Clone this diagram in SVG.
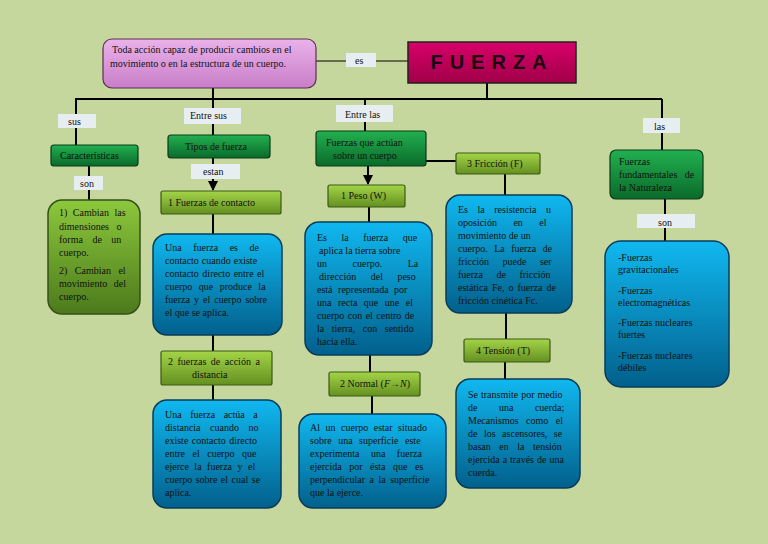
<svg xmlns="http://www.w3.org/2000/svg" width="768" height="544" viewBox="0 0 768 544">
<defs>
<linearGradient id="gb" x1="0" y1="0" x2="0" y2="1"><stop offset="0" stop-color="#10b8f0"/><stop offset="1" stop-color="#02608c"/></linearGradient>
<linearGradient id="gg" x1="0" y1="0" x2="0" y2="1"><stop offset="0" stop-color="#8cc83c"/><stop offset="1" stop-color="#4c7a1c"/></linearGradient>
<linearGradient id="gd" x1="0" y1="0" x2="0" y2="1"><stop offset="0" stop-color="#22b050"/><stop offset="1" stop-color="#0a6a2a"/></linearGradient>
<linearGradient id="gl" x1="0" y1="0" x2="0" y2="1"><stop offset="0" stop-color="#a4d448"/><stop offset="1" stop-color="#649020"/></linearGradient>
<linearGradient id="gp" x1="0" y1="0" x2="0" y2="1"><stop offset="0" stop-color="#eab2ea"/><stop offset="1" stop-color="#c87ec8"/></linearGradient>
<linearGradient id="gm" x1="0" y1="0" x2="0" y2="1"><stop offset="0" stop-color="#d8006a"/><stop offset="1" stop-color="#a00048"/></linearGradient>
<marker id="ar" viewBox="0 0 10 10" refX="9" refY="5" markerWidth="5" markerHeight="5" orient="auto"><path d="M0,0L10,5L0,10z" fill="#000"/></marker>
</defs>
<style>
text{font-family:"Liberation Serif",serif;font-size:10px;fill:#111}
.lb{fill:#e6eef2}
.bl{fill:url(#gb);stroke:#0a3c5a;stroke-width:1.5}
.gr{fill:url(#gg);stroke:#35501a;stroke-width:1.5}
.dk{fill:url(#gd);stroke:#0a3a1a;stroke-width:1.2}
.lg{fill:url(#gl);stroke:#3a5a14;stroke-width:1.2}
.c line,.c path{stroke:#000;stroke-width:2;fill:none}
</style>
<rect width="768" height="544" fill="#c6d79d"/>
<g class="c">
<line x1="487" y1="83" x2="487" y2="99"/>
<line x1="75" y1="99" x2="662" y2="99"/>
<line x1="213" y1="88" x2="213" y2="135"/>
<line x1="316" y1="61" x2="408" y2="61" style="stroke-width:1"/>
<line x1="76" y1="99" x2="76" y2="145"/>
<line x1="89" y1="166" x2="89" y2="200"/>
<line x1="213" y1="158" x2="213" y2="190" marker-end="url(#ar)"/>
<line x1="213" y1="214" x2="213" y2="234"/>
<line x1="213" y1="335" x2="213" y2="351"/>
<line x1="213" y1="385" x2="213" y2="400"/>
<line x1="365" y1="99" x2="365" y2="131"/>
<line x1="368" y1="166" x2="368" y2="184" marker-end="url(#ar)"/>
<line x1="369" y1="207" x2="369" y2="222"/>
<line x1="370" y1="355" x2="370" y2="372"/>
<line x1="372" y1="396" x2="372" y2="414"/>
<line x1="426" y1="161" x2="456" y2="161"/>
<line x1="505" y1="173" x2="505" y2="195"/>
<line x1="506" y1="313" x2="506" y2="339"/>
<line x1="505" y1="362" x2="505" y2="379"/>
<line x1="662" y1="99" x2="662" y2="150"/>
<line x1="665" y1="199" x2="665" y2="241"/>
</g>
<g id="def"><rect x="103" y="39" width="213" height="49" rx="9" fill="url(#gp)" stroke="#5a3050" stroke-width="1.2"/>
<text x="112" y="53">Toda acción capaz de producir cambios en el</text><text x="110" y="67">movimiento o en la estructura de un cuerpo.</text></g>
<g id="es"><rect class="lb" x="346" y="53" width="30" height="14"/><text x="355" y="64">es</text></g>
<g id="fuerza"><rect x="408" y="42" width="168" height="41" fill="url(#gm)" stroke="#222" stroke-width="1.5"/>
<text x="492" y="69" text-anchor="middle" style="font-family:'Liberation Sans',sans-serif;font-size:20px;font-weight:bold;letter-spacing:7px;fill:#1a0010">FUERZA</text></g>
<g id="sus"><rect class="lb" x="58" y="114" width="38" height="14"/><text x="68" y="125">sus</text></g>
<g id="caract"><rect class="dk" x="51" y="145" width="87" height="21" rx="3"/><text x="60" y="159">Características</text></g>
<g id="son1"><rect class="lb" x="74" y="176" width="29" height="14"/><text x="80" y="187">son</text></g>
<g id="cambios"><rect class="gr" x="48" y="200" width="92" height="114" rx="14"/>
<text x="59" y="216" word-spacing="3">1) Cambian las</text><text x="59" y="230" word-spacing="5">dimensiones o</text><text x="59" y="243" word-spacing="7">forma de un</text><text x="59" y="256">cuerpo.</text>
<text x="59" y="274" word-spacing="5">2) Cambian el</text><text x="59" y="287" word-spacing="4">movimiento del</text><text x="59" y="300">cuerpo.</text></g>
<g id="entresus"><rect class="lb" x="184" y="108" width="57" height="16"/><text x="190" y="119">Entre sus</text></g>
<g id="tipos"><rect class="dk" x="168" y="135" width="102" height="23" rx="3"/><text x="185" y="150">Tipos de fuerza</text></g>
<g id="estan"><rect class="lb" x="191" y="164" width="49" height="15"/><text x="203" y="175">estan</text></g>
<g id="contacto"><rect class="lg" x="161" y="191" width="120" height="23" rx="2"/><text x="168" y="206">1 Fuerzas de contacto</text></g>
<g id="contacto-d"><rect class="bl" x="153" y="234" width="129" height="101" rx="14"/>
<text x="165" y="251" word-spacing="9">Una fuerza es de</text><text x="165" y="264" word-spacing="0.5">contacto cuando existe</text><text x="165" y="277" word-spacing="1">contacto directo entre el</text><text x="165" y="290" word-spacing="4">cuerpo que produce la</text><text x="165" y="303" word-spacing="1.5">fuerza y el cuerpo sobre</text><text x="165" y="316">el que se aplica.</text></g>
<g id="distancia"><rect class="lg" x="161" y="351" width="111" height="34" rx="2"/><text x="168" y="365" word-spacing="2">2 fuerzas de acción a</text><text x="192" y="378">distancia</text></g>
<g id="distancia-d"><rect class="bl" x="153" y="400" width="128" height="108" rx="14"/>
<text x="165" y="418" word-spacing="6">Una fuerza actúa a</text><text x="165" y="431" word-spacing="7">distancia cuando no</text><text x="165" y="444" word-spacing="1">existe contacto directo</text><text x="165" y="457" word-spacing="5">entre el cuerpo que</text><text x="165" y="470" word-spacing="3">ejerce la fuerza y el</text><text x="165" y="483" word-spacing="1">cuerpo sobre el cual se</text><text x="165" y="496">aplica.</text></g>
<g id="entrelas"><rect class="lb" x="336" y="105" width="57" height="17"/><text x="345" y="118">Entre las</text></g>
<g id="actuan"><rect class="dk" x="316" y="131" width="110" height="35" rx="3"/><text x="326" y="146">Fuerzas que actúan</text><text x="333" y="159">sobre un cuerpo</text></g>
<g id="peso"><rect class="lg" x="328" y="185" width="77" height="22" rx="2"/><text x="341" y="199">1 Peso (W)</text></g>
<g id="peso-d"><rect class="bl" x="305" y="222" width="127" height="133" rx="14"/>
<text x="317" y="241" word-spacing="12">Es la fuerza que</text><text x="319" y="254">aplica la tierra sobre</text><text x="317" y="267" word-spacing="23">un cuerpo. La</text><text x="319" y="280" word-spacing="12">dirección del peso</text><text x="317" y="293" word-spacing="3">está representada por</text><text x="317" y="306" word-spacing="4">una recta que une el</text><text x="317" y="319" word-spacing="1">cuerpo con el centro de</text><text x="317" y="332" word-spacing="5">la tierra, con sentido</text><text x="317" y="345">hacia ella.</text></g>
<g id="normal"><rect class="lg" x="329" y="372" width="91" height="24" rx="2"/><text x="340" y="387">2 Normal (<tspan font-style="italic">F→N</tspan>)</text></g>
<g id="normal-d"><rect class="bl" x="299" y="414" width="147" height="94" rx="14"/>
<text x="310" y="431" word-spacing="3">Al un cuerpo estar situado</text><text x="310" y="444" word-spacing="4">sobre una superficie este</text><text x="310" y="457" word-spacing="9">experimenta una fuerza</text><text x="310" y="470" word-spacing="5">ejercida por ésta que es</text><text x="310" y="483" word-spacing="2">perpendicular a la superficie</text><text x="310" y="496">que la ejerce.</text></g>
<g id="friccion"><rect class="lg" x="456" y="153" width="84" height="21" rx="2"/><text x="467" y="167">3 Fricción (F)</text></g>
<g id="friccion-d"><rect class="bl" x="446" y="195" width="126" height="118" rx="14"/>
<text x="458" y="213" word-spacing="7">Es la resistencia u</text><text x="458" y="226" word-spacing="14">oposición en el</text><text x="458" y="239">movimiento de un</text><text x="458" y="252" word-spacing="4">cuerpo. La fuerza de</text><text x="458" y="265" word-spacing="11">fricción puede ser</text><text x="458" y="278" word-spacing="11">fuerza de fricción</text><text x="458" y="291" word-spacing="1.5">estática Fe, o fuerza de</text><text x="458" y="304">fricción cinética Fc.</text></g>
<g id="tension"><rect class="lg" x="464" y="339" width="86" height="23" rx="2"/><text x="476" y="354">4  Tensión (T)</text></g>
<g id="tension-d"><rect class="bl" x="456" y="379" width="124" height="109" rx="14"/>
<text x="468" y="398" word-spacing="0.5">Se transmite por medio</text><text x="468" y="411" word-spacing="19">de una cuerda;</text><text x="468" y="424" word-spacing="5">Mecanismos como el</text><text x="468" y="437" word-spacing="4">de los ascensores, se</text><text x="468" y="450" word-spacing="6">basan en la tensión</text><text x="468" y="463" word-spacing="0.5">ejercida a través de una</text><text x="468" y="476">cuerda.</text></g>
<g id="las"><rect class="lb" x="643" y="118" width="37" height="15"/><text x="654" y="130">las</text></g>
<g id="fundamentales"><rect class="dk" x="610" y="150" width="93" height="49" rx="6"/><text x="619" y="165">Fuerzas</text><text x="619" y="178" word-spacing="5">fundamentales de</text><text x="619" y="191">la Naturaleza</text></g>
<g id="son2"><rect class="lb" x="637" y="214" width="58" height="14"/><text x="658" y="226">son</text></g>
<g id="lista"><rect class="bl" x="605" y="241" width="124" height="146" rx="16"/>
<text x="618" y="261">-Fuerzas</text><text x="618" y="273">gravitacionales</text><text x="618" y="294">-Fuerzas</text><text x="618" y="306">electromagnéticas</text><text x="618" y="326">-Fuerzas nucleares</text><text x="618" y="338">fuertes</text><text x="618" y="359">-Fuerzas nucleares</text><text x="618" y="371">débiles</text></g>
</svg>
